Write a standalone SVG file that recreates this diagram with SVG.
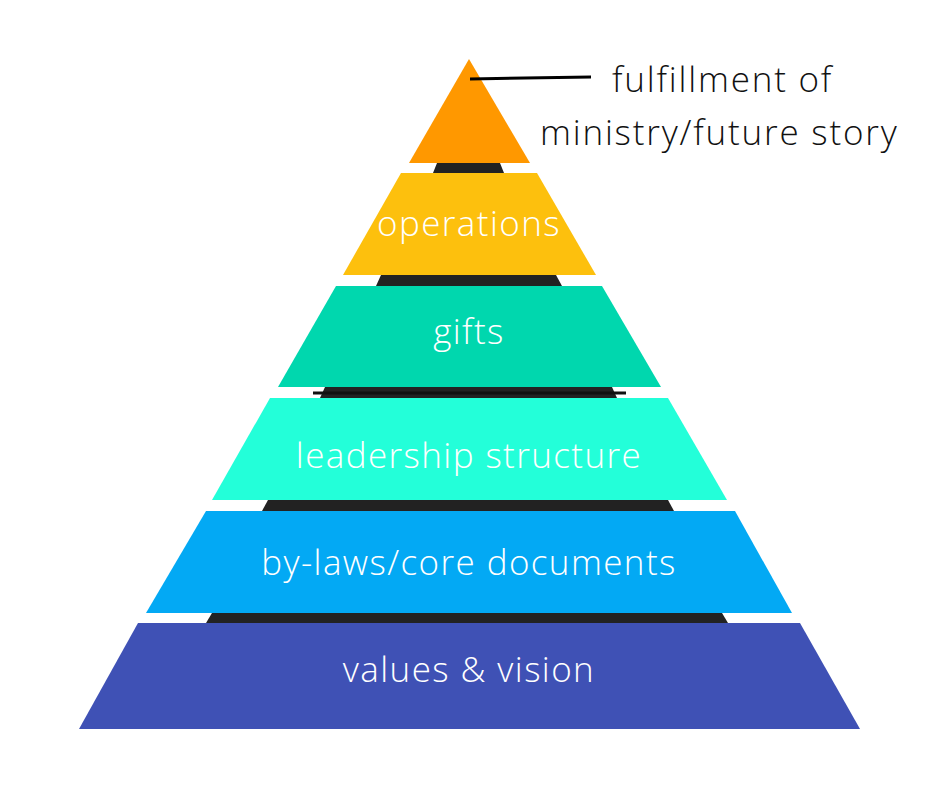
<svg xmlns="http://www.w3.org/2000/svg" width="940" height="788" viewBox="0 0 940 788">
<style>
.lbl{font-family:"Open Sans","Liberation Sans",sans-serif;font-weight:300;font-size:35px;letter-spacing:1.4px;fill:#ffffff;text-anchor:middle}
.cap{font-family:"Open Sans","Liberation Sans",sans-serif;font-weight:300;font-size:35px;letter-spacing:1.8px;fill:#111111}
.dk{fill:#222222}
</style>
<rect width="940" height="788" fill="#ffffff"/>
<g id="gaps">
<polygon class="dk" points="437,163 500,163 504,173 433,173"/>
<polygon class="dk" points="381,275 556,275 562,286 376,286"/>
<polygon class="dk" points="325,387 612,387 617,398 320,398"/>
<polygon class="dk" points="268,500 668,500 674,511 262,511"/>
<polygon class="dk" points="212,613 722,613 728,623 206,623"/>
<line x1="313" y1="393" x2="626" y2="393" stroke="#111" stroke-width="3"/>
</g>
<g id="n-top"><polygon points="469,59 530,163 409,163" fill="#ff9800"/></g>
<g id="n-operations"><polygon points="401,173 537,173 596,275 343,275" fill="#fdc00d"/><text class="lbl" x="469" y="236">operations</text></g>
<g id="n-gifts"><polygon points="336,286 602,286 661,387 278,387" fill="#00d7ae"/><text class="lbl" x="469" y="344">gifts</text></g>
<g id="n-leadership"><polygon points="270,398 668,398 727,500 212,500" fill="#23ffd9"/><text class="lbl" x="469" y="468">leadership structure</text></g>
<g id="n-bylaws"><polygon points="206,511 735,511 792,613 146,613" fill="#03a9f4"/><text class="lbl" x="469" y="575">by-laws/core documents</text></g>
<g id="n-values"><polygon points="138,623 800,623 860,729 79,729" fill="#3f51b5"/><text class="lbl" x="469" y="682">values &amp; vision</text></g>
<g id="connectors"><line x1="470" y1="79" x2="591" y2="77" stroke="#000" stroke-width="3"/></g>
<g id="n-caption"><text class="cap" x="612" y="92">fulfillment of</text><text class="cap" x="540" y="145">ministry/future story</text></g>
</svg>
